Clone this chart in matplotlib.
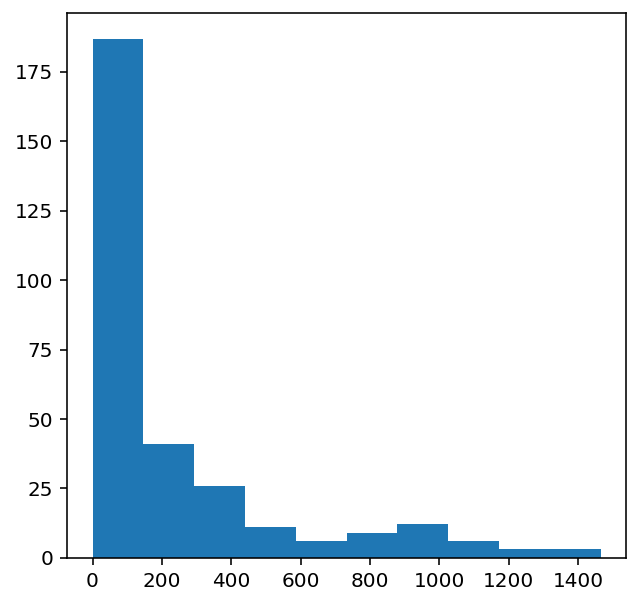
import matplotlib
matplotlib.use("Agg")
import matplotlib.pyplot as plt
import numpy as np

# histogram: 10 equal bins from 0 to ~1465
bin_edges = np.linspace(0, 1465, 11)
counts = [187, 41, 26, 11, 6, 9, 12, 6, 3, 3]

dpi = 144
fig = plt.figure(figsize=(639 / dpi, 605 / dpi), dpi=dpi)
ax = fig.add_axes([0.105, 0.078, 0.875, 0.901])
ax.hist(bin_edges[:-1], bins=bin_edges, weights=counts, color="#1f77b4")
ax.set_yticks(np.arange(0, 176, 25))
ax.set_xticks(np.arange(0, 1401, 200))

fig.savefig("out.png", dpi=dpi)
